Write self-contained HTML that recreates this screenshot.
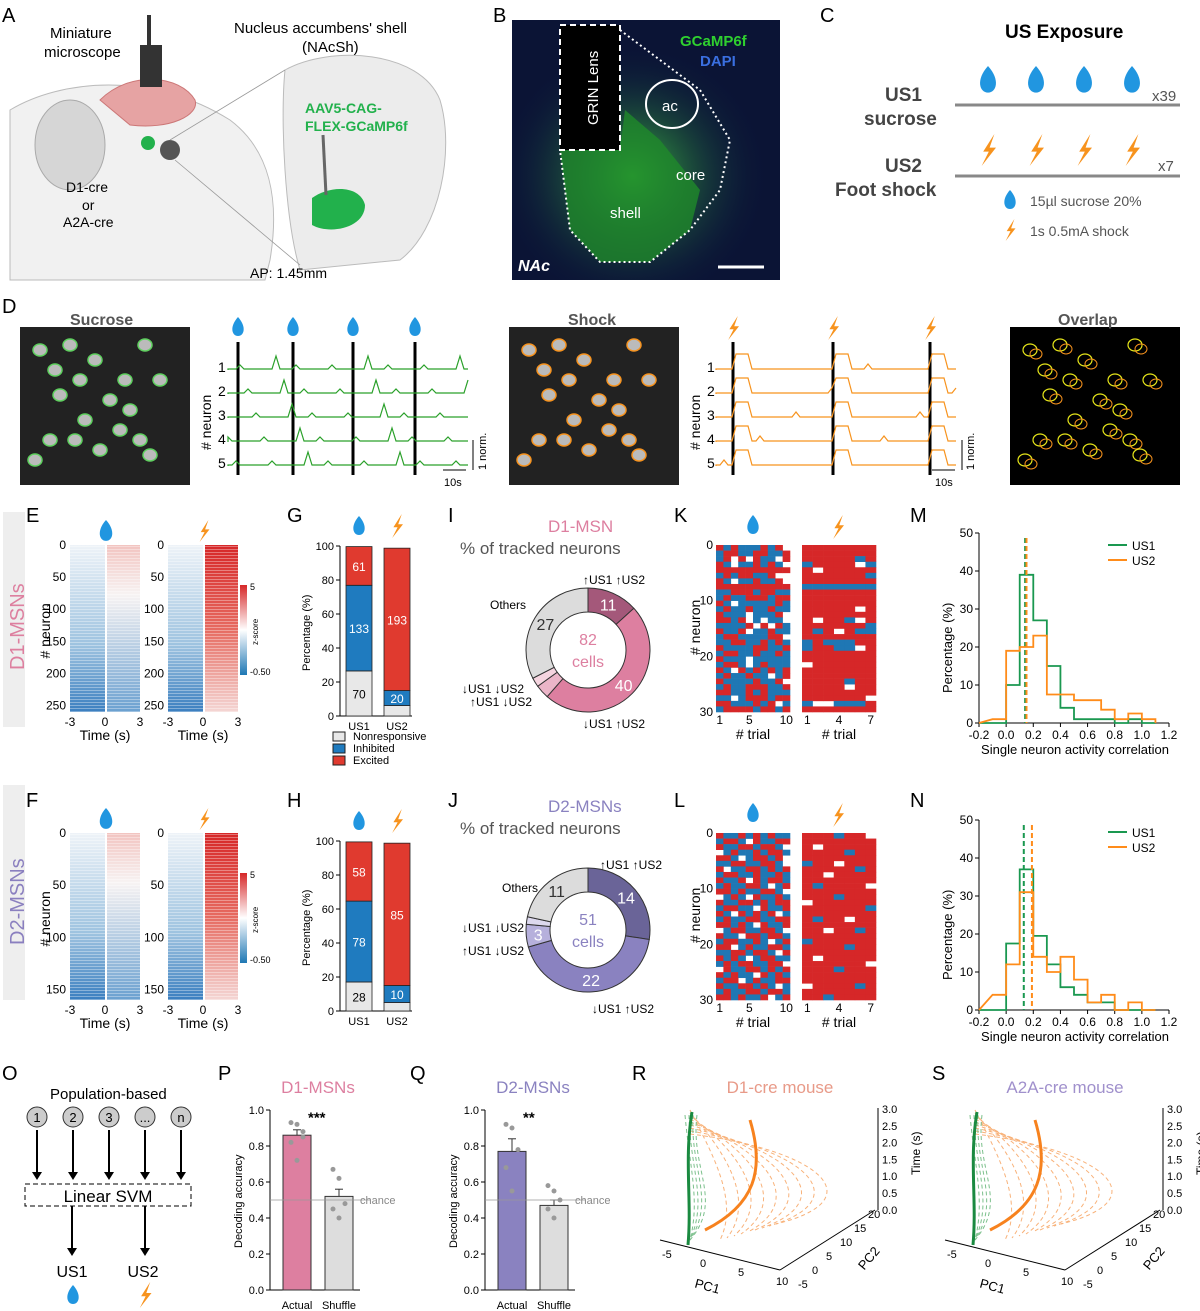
<!DOCTYPE html>
<html><head><meta charset="utf-8"><style>
body{margin:0;background:#fff}
svg{display:block;font-family:"Liberation Sans",sans-serif}
</style></head><body>
<svg id="fig" width="1200" height="1311" viewBox="0 0 1200 1311">
<defs>
<linearGradient id="hm1" x1="0" y1="0" x2="0" y2="1"><stop offset="0" stop-color="#eef3f8"/><stop offset="0.6" stop-color="#9ec3e0"/><stop offset="1" stop-color="#3b7fc0"/></linearGradient>
<linearGradient id="hm1r" x1="0" y1="0" x2="0" y2="1"><stop offset="0" stop-color="#f2c4c0"/><stop offset="0.3" stop-color="#f7f3f3"/><stop offset="1" stop-color="#6aa0d0"/></linearGradient>
<linearGradient id="hm2r" x1="0" y1="0" x2="0" y2="1"><stop offset="0" stop-color="#d62728"/><stop offset="0.5" stop-color="#e66a60"/><stop offset="1" stop-color="#f4d6d4"/></linearGradient>
<linearGradient id="cbar" x1="0" y1="0" x2="0" y2="1"><stop offset="0" stop-color="#d62728"/><stop offset="0.5" stop-color="#fff"/><stop offset="1" stop-color="#1f77b4"/></linearGradient>
<pattern id="stripes" width="6" height="3" patternUnits="userSpaceOnUse"><rect width="6" height="1" fill="#fff" opacity="0.35"/></pattern>
<radialGradient id="glow" cx="0.45" cy="0.6" r="0.5"><stop offset="0" stop-color="#3fbf3f"/><stop offset="1" stop-color="#0b1a40" stop-opacity="0"/></radialGradient>
</defs>
<g font-size="20" fill="#000">
<text x="2" y="22">A</text><text x="493" y="22">B</text><text x="820" y="22">C</text><text x="2" y="313">D</text>
<text x="26" y="522">E</text><text x="287" y="522">G</text><text x="448" y="522">I</text><text x="674" y="522">K</text><text x="910" y="522">M</text>
<text x="26" y="807">F</text><text x="287" y="807">H</text><text x="448" y="807">J</text><text x="674" y="807">L</text><text x="910" y="807">N</text>
<text x="2" y="1080">O</text><text x="218" y="1080">P</text><text x="410" y="1080">Q</text><text x="632" y="1080">R</text><text x="932" y="1080">S</text>
</g>
<!-- Panel A -->
<g>
<path d="M10,110 C60,80 150,70 230,120 C270,150 280,200 270,260 L265,280 L10,280 Z" fill="#f1f1f1" stroke="#bbb"/>
<ellipse cx="70" cy="145" rx="35" ry="45" fill="#d6d6d6" stroke="#aaa"/>
<path d="M100,100 C130,70 180,75 195,100 C200,115 170,130 130,125 Z" fill="#e6a3a3" stroke="#c77"/>
<circle cx="148" cy="143" r="7" fill="#22b14c"/><circle cx="170" cy="150" r="10" fill="#555"/>
<rect x="140" y="45" width="22" height="42" fill="#333"/><rect x="147" y="15" width="4" height="32" fill="#333"/>
<path d="M285,70 C330,45 420,50 440,100 C455,150 440,230 400,260 L300,270 C285,220 280,120 285,70Z" fill="#ececec" stroke="#bbb"/>
<path d="M312,198 C330,185 360,185 365,205 C365,228 330,235 312,225 Z" fill="#22b14c"/>
<line x1="323" y1="135" x2="326" y2="195" stroke="#666" stroke-width="3"/>
<line x1="170" y1="140" x2="285" y2="70" stroke="#999" stroke-width="0.8"/><line x1="175" y1="160" x2="300" y2="265" stroke="#999" stroke-width="0.8"/>
<text x="50" y="38" font-size="15">Miniature</text><text x="44" y="57" font-size="15">microscope</text>
<text x="234" y="33" font-size="15">Nucleus accumbens' shell</text><text x="302" y="52" font-size="15">(NAcSh)</text>
<text x="305" y="113" font-size="14" fill="#22b14c" font-weight="bold">AAV5-CAG-</text><text x="305" y="131" font-size="14" fill="#22b14c" font-weight="bold">FLEX-GCaMP6f</text>
<text x="66" y="192" font-size="14">D1-cre</text><text x="82" y="210" font-size="14">or</text><text x="63" y="227" font-size="14">A2A-cre</text>
<text x="250" y="278" font-size="14">AP: 1.45mm</text>
</g>
<!-- Panel B -->
<g>
<rect x="512" y="20" width="268" height="260" fill="#0b1435"/>
<rect x="512" y="20" width="268" height="260" fill="url(#glow)"/>
<path d="M560,150 L620,150 L625,110 L660,140 L700,190 L690,230 L650,262 L600,262 L570,230 Z" fill="#1f8a2a" opacity="0.8"/>
<rect x="560" y="25" width="60" height="125" fill="#000" stroke="#fff" stroke-dasharray="6,4" stroke-width="2"/>
<text transform="translate(598,125) rotate(-90)" fill="#fff" font-size="15">GRIN Lens</text>
<ellipse cx="672" cy="104" rx="26" ry="24" fill="none" stroke="#fff" stroke-width="2"/>
<path d="M620,30 L700,90 L730,140 L720,190 L690,230 L650,262 L600,262 L570,230 L560,150" fill="none" stroke="#fff" stroke-dasharray="2,3" stroke-width="2"/>
<text x="662" y="111" fill="#fff" font-size="15">ac</text><text x="676" y="180" fill="#fff" font-size="15">core</text><text x="610" y="218" fill="#fff" font-size="15">shell</text>
<text x="680" y="46" fill="#2fd02f" font-size="15" font-weight="bold">GCaMP6f</text><text x="700" y="66" fill="#3a6fe0" font-size="15" font-weight="bold">DAPI</text>
<text x="518" y="271" fill="#fff" font-size="16" font-weight="bold" font-style="italic">NAc</text>
<line x1="718" y1="267" x2="764" y2="267" stroke="#fff" stroke-width="3"/>
</g>
<!-- Panel C -->
<g>
<text x="1005" y="38" font-size="19" font-weight="bold">US Exposure</text>
<text x="885" y="101" font-size="19" font-weight="bold" fill="#444">US1</text><text x="864" y="125" font-size="19" font-weight="bold" fill="#444">sucrose</text>
<text x="885" y="172" font-size="19" font-weight="bold" fill="#444">US2</text><text x="835" y="196" font-size="19" font-weight="bold" fill="#444">Foot shock</text>
<line x1="955" y1="105" x2="1180" y2="105" stroke="#888" stroke-width="3"/><line x1="955" y1="176" x2="1180" y2="176" stroke="#888" stroke-width="3"/>
<text x="1152" y="101" font-size="15" fill="#555">x39</text><text x="1158" y="171" font-size="15" fill="#555">x7</text>
<g id="cicons"></g>
<text x="1030" y="206" font-size="14" fill="#555">15µl sucrose 20%</text><text x="1030" y="236" font-size="14" fill="#555">1s 0.5mA shock</text>
</g>
<!-- Panel D -->
<g>
<rect x="20" y="327" width="170" height="158" fill="#222"/>
<rect x="509" y="327" width="170" height="158" fill="#222"/>
<rect x="1010" y="327" width="170" height="158" fill="#000"/>
<text x="70" y="325" font-size="16" font-weight="bold" fill="#555">Sucrose</text>
<text x="568" y="325" font-size="16" font-weight="bold" fill="#555">Shock</text>
<text x="1058" y="325" font-size="16" font-weight="bold" fill="#555">Overlap</text>
<g id="rois"></g><g id="traces"></g>
<text transform="translate(211,450) rotate(-90)" font-size="14">#  neuron</text>
<text transform="translate(700,450) rotate(-90)" font-size="14">#  neuron</text>
<text x="444" y="486" font-size="11">10s</text><text x="935" y="486" font-size="11">10s</text>
<text transform="translate(486,470) rotate(-90)" font-size="11">1 norm.</text><text transform="translate(974,470) rotate(-90)" font-size="11">1 norm.</text>
<line x1="473" y1="440" x2="473" y2="470" stroke="#000"/><line x1="443" y1="470" x2="466" y2="470" stroke="#000"/>
<line x1="962" y1="440" x2="962" y2="470" stroke="#000"/><line x1="932" y1="470" x2="955" y2="470" stroke="#000"/>
</g>
<!-- Row labels -->
<rect x="3" y="512" width="22" height="215" fill="#eee"/>
<rect x="3" y="785" width="22" height="215" fill="#eee"/>
<text transform="translate(24,670) rotate(-90)" font-size="20" fill="#dd7f9f">D1-MSNs</text>
<text transform="translate(24,945) rotate(-90)" font-size="20" fill="#8a7fbf">D2-MSNs</text>
<!-- E/F heatmaps -->
<g id="heat"></g>
<g id="charts"></g>
</svg>
<script>
const NS="http://www.w3.org/2000/svg";
function mk(tag,attrs,parent,text){const e=document.createElementNS(NS,tag);for(const k in attrs)e.setAttribute(k,attrs[k]);if(text!==undefined)e.textContent=text;(parent||document.getElementById('charts')).appendChild(e);return e;}
const G=document.getElementById('charts');
function drop(x,y,s,p){const e=mk('path',{d:`M${x},${y-s} C${x+s*0.9},${y} ${x+s*0.6},${y+s*0.9} ${x},${y+s*0.9} C${x-s*0.6},${y+s*0.9} ${x-s*0.9},${y} ${x},${y-s}Z`,fill:'#2196e0'},p);}
function bolt(x,y,s,p){const e=mk('path',{d:`M${x+s*0.4},${y-s} L${x-s*0.3},${y+s*0.1} L${x+s*0.05},${y+s*0.1} L${x-s*0.4},${y+s} L${x+s*0.5},${y-s*0.15} L${x+s*0.1},${y-s*0.15} Z`,fill:'#f7931e'},p);}
const ci=document.getElementById('cicons');
[988,1036,1084,1132].forEach(x=>{drop(x,80,14,ci);bolt(x,150,16,ci);});
drop(1010,200,10,ci);bolt(1010,230,11,ci);
// ROIs
const roi=document.getElementById('rois');
const roiPts=[[40,350],[55,370],[70,345],[60,395],[80,380],[95,360],[110,400],[85,420],[120,430],[130,410],[140,440],[150,455],[35,460],[50,440],[145,345],[160,380],[100,450],[75,440],[125,380]];
roiPts.forEach(p=>{[[0,'#5ed05e',0],[489,'#f7931e',0]].forEach(o=>{mk('ellipse',{cx:p[0]+o[0],cy:p[1],rx:7,ry:6,fill:'#bbb',stroke:o[1],'stroke-width':1.5},roi);});
mk('ellipse',{cx:p[0]+990,cy:p[1],rx:7,ry:6,fill:'none',stroke:'#e5e51a','stroke-width':1.2},roi);mk('ellipse',{cx:p[0]+996,cy:p[1]+4,rx:6,ry:5,fill:'none',stroke:'#f7931e','stroke-width':1},roi);});
// traces
const tr=document.getElementById('traces');
const sucEvents=[238,293,353,415], shkEvents=[733,833,930];
sucEvents.forEach(x=>{drop(x,327,10,tr);mk('line',{x1:x,y1:342,x2:x,y2:475,stroke:'#000','stroke-width':3},tr);});
shkEvents.forEach(x=>{bolt(x,328,12,tr);mk('line',{x1:x,y1:342,x2:x,y2:475,stroke:'#000','stroke-width':3},tr);});
const neuronLabels=['1','2','3','4','5'];
neuronLabels.forEach((l,i)=>{const y=370+i*24;mk('text',{x:218,y:y+2,'font-size':14},tr,l);mk('text',{x:707,y:y+2,'font-size':14},tr,l);
let d=`M228,${y}`,d2=`M716,${y}`;for(let x=228;x<=470;x+=4){const k=(x*7+i*13)%23;d+=` L${x},${y-(k==0?14:k<3?5:1)}`;}
for(let x=716;x<=958;x+=4){const near=shkEvents.some(e=>x>e&&x<e+16);d2+=` L${x},${y-(near?16:((x+i*5)%31==0?6:1))}`;}
mk('path',{d,fill:'none',stroke:'#2aa02a','stroke-width':1.2},tr);mk('path',{d:d2,fill:'none',stroke:'#f7931e','stroke-width':1.2},tr);});
// heatmaps
const H=document.getElementById('heat');
function heatPanel(y0,y1,ticks,tickVals,maxN){
 [[70,'url(#hm1)','url(#hm1r)',drop],[168,'url(#hm1)','url(#hm2r)',bolt]].forEach((c,j)=>{
  mk('rect',{x:c[0],y:y0,width:36,height:y1-y0,fill:c[1]},H);mk('rect',{x:c[0]+36,y:y0,width:34,height:y1-y0,fill:c[2]},H);
  mk('rect',{x:c[0],y:y0,width:70,height:y1-y0,fill:'url(#stripes)'},H);
  mk('line',{x1:c[0]+36,y1:y0,x2:c[0]+36,y2:y1,stroke:'#fff','stroke-width':2},H);
  c[3](c[0]+36,y0-14,11,H);
  tickVals.forEach(v=>{const y=y0+(y1-y0)*v/maxN;mk('text',{x:c[0]-4,y:y+4,'font-size':12,'text-anchor':'end'},H,String(v));});
  ['-3','0','3'].forEach((t,k)=>mk('text',{x:c[0]+k*35,y:y1+14,'font-size':12,'text-anchor':'middle'},H,t));
  mk('text',{x:c[0]+35,y:y1+28,'font-size':14,'text-anchor':'middle'},H,'Time (s)');
 });
 mk('rect',{x:240,y:y0+40,width:7,height:90,fill:'url(#cbar)'},H);
 mk('text',{x:250,y:y0+45,'font-size':9},H,'5');mk('text',{x:250,y:y0+130,'font-size':9},H,'-0.50');
 mk('text',{transform:`translate(258,${y0+100}) rotate(-90)`,'font-size':8},H,'z-score');
 mk('text',{transform:`translate(50,${(y0+y1)/2+30}) rotate(-90)`,'font-size':14},H,'# neuron');
}
heatPanel(545,712,[],[0,50,100,150,200,250],260);
heatPanel(833,1000,[],[0,50,100,150],160);

// stacked bars G/H
const barCats=['US1','US2'];
const gNonresp=[70,14], gInhib=[133,20], gExcit=[61,193];
const hNonresp=[28,5], hInhib=[78,10], hExcit=[58,85];
function stacked(x0,yTop,yBot,non,inh,exc){
 const ys=v=>yBot-(yBot-yTop)*v/100;
 mk('line',{x1:x0,y1:yTop,x2:x0,y2:yBot,stroke:'#000'});mk('line',{x1:x0,y1:yBot,x2:x0+72,y2:yBot,stroke:'#000'});
 [0,20,40,60,80,100].forEach(v=>{mk('line',{x1:x0-4,y1:ys(v),x2:x0,y2:ys(v),stroke:'#000'});mk('text',{x:x0-6,y:ys(v)+4,'font-size':11,'text-anchor':'end'},G,String(v));});
 mk('text',{transform:`translate(${x0-30},${(yTop+yBot)/2+40}) rotate(-90)`,'font-size':11},G,'Percentage (%)');
 barCats.forEach((c,i)=>{const bx=x0+6+i*38,w=26,tot=non[i]+inh[i]+exc[i];
  const p1=non[i]/tot*100,p2=inh[i]/tot*100,p3=exc[i]/tot*100*0.985;
  const segs=[[0,p1,'#e8e8e8',non[i],'#000'],[p1,p1+p2,'#1f7bbf',inh[i],'#fff'],[p1+p2,p1+p2+p3,'#e03a2f',exc[i],'#fff']];
  segs.forEach((s,k)=>{const r=mk('rect',{x:bx,y:ys(s[1]),width:w,height:ys(s[0])-ys(s[1]),fill:s[2],stroke:'#222','stroke-width':0.8});
   
   if(!(i==1&&k==0))mk('text',{x:bx+w/2,y:(ys(s[0])+ys(s[1]))/2+5,'font-size':12,fill:s[4],'text-anchor':'middle'},G,String(s[3]));});
  mk('text',{x:bx+w/2,y:yBot+14,'font-size':11,'text-anchor':'middle'},G,c);});
 drop(x0+19,yTop-20,10,G);bolt(x0+57,yTop-20,12,G);
}
stacked(340,546,716,gNonresp,gInhib,gExcit);
stacked(340,841,1011,hNonresp,hInhib,hExcit);
[['#e8e8e8','Nonresponsive',740],['#1f7bbf','Inhibited',752],['#e03a2f','Excited',764]].forEach(l=>{mk('rect',{x:333,y:l[2]-8,width:12,height:9,fill:l[0],stroke:'#222'});mk('text',{x:353,y:l[2],'font-size':11},G,l[1]);});

// donuts
const d1Vals=[11,40,3,2,27], d1Labels=['11','40','','','27'];
const d2Vals=[14,22,3,1,11], d2Labels=['14','22','3','','11'];
function donut(cx,cy,vals,labels,cols,center,title,tcol){
 const tot=vals.reduce((a,b)=>a+b,0);let a=-Math.PI/2+0.0;const R=62,r=38;
 // start at top (others end at top)
 vals.forEach((v,i)=>{const a2=a+v/tot*2*Math.PI;const large=a2-a>Math.PI?1:0;
  const p=(rr,an)=>`${cx+rr*Math.cos(an)},${cy+rr*Math.sin(an)}`;
  const s=mk('path',{d:`M${p(R,a)} A${R},${R} 0 ${large} 1 ${p(R,a2)} L${p(r,a2)} A${r},${r} 0 ${large} 0 ${p(r,a)}Z`,fill:cols[i],stroke:'#333','stroke-width':1});
  
  const m=(a+a2)/2;if(labels[i])mk('text',{x:cx+50*Math.cos(m),y:cy+50*Math.sin(m)+6,'font-size':16,'text-anchor':'middle',fill:i==4?'#333':'#fff'},G,labels[i]);a=a2;});
 mk('text',{x:cx,y:cy-5,'font-size':16,'text-anchor':'middle',fill:tcol},G,center);mk('text',{x:cx,y:cy+17,'font-size':16,'text-anchor':'middle',fill:tcol},G,'cells');
 mk('text',{x:cx-40,y:cy-118,'font-size':17,'text-anchor':'start',fill:tcol},G,title);
 mk('text',{x:cx-128,y:cy-96,'font-size':17,fill:'#555'},G,'% of tracked neurons');
}
donut(588,650,d1Vals,d1Labels,['#a4587a','#dd7fa0','#ebb5c8','#f5d4df','#dcdcdc'],'82','D1-MSN','#dd7fa0');
donut(588,930,d2Vals,d2Labels,['#6a6498','#8a82c0','#b6b0dc','#dcd8ee','#dcdcdc'],'51','D2-MSNs','#8a82c0');
[[583,584,'↑US1 ↑US2'],[490,609,'Others'],[462,693,'↓US1 ↓US2'],[470,706,'↑US1 ↓US2'],[583,728,'↓US1 ↑US2'],
 [600,869,'↑US1 ↑US2'],[502,892,'Others'],[462,932,'↓US1 ↓US2'],[462,955,'↑US1 ↓US2'],[592,1013,'↓US1 ↑US2']].forEach(t=>mk('text',{x:t[0],y:t[1],'font-size':12},G,t[2]));

// K/L rasters: R=excited, B=inhibited, W=none
const kUS1=["RBRBBBRBRW","BRRBBRRBBR","BRWRWRBBWR","RBWBBRBRBW","RRRRRRRRRR","BRBRRBBRWW","RBWBBRBBRW","RRRRRRRRRR","BBRRRBRRBB","BRBBRRRBRR","RBWBBBBBRB","BRBBRBBRBB","RBBBWBBBRW","RRBRWBWBBW","BBBBRWRWRB","RBBRWBBRBB","BRRBBBBRRW","BBRRBBRBRB","RBBBBRRBBR","BRRBBRBBRB","RBBBWBBBBB","BRRBWBRBBB","RBWRBRBRBR","BRBBRBBWBR","RBBBBRBBRW","BRBBRRRBBR","RRBBRBRBBB","BBWBRRRBRR","RRBBBRBRWB","BRRRRBRRBR"];
const kUS2=["RRRRRRR","RRRRRRR","RRRRRBR","BRRRRWB","RWRRRRR","RRRRRRB","RRRRRRR","BBBBBBB","RRRRRRR","RRRRRRR","RRRRRRR","RRRRRWR","RRRRRRR","RWRRBWR","RRRRRRB","RBRWRBB","RRRRRRR","BRBBBRR","BRRBBWR","RRRRRRR","RRRRRRR","WRRRRRR","RRRRRRR","RRRRRRR","RRRRBRR","RRRRWRR","RRRRRRR","RRRRRRW","BWWBBBR","RRRRRRR"];
const lUS1=["RBBRBRBRBB","BRRBWRBBRR","RBBRRBRRBW","WBRBBRBRRB","RRBWBRRBRW","BBRRBBRRBW","RWBBRRBRBR","BRRBBRBBRB","RBBRWRBRRB","BRBBRRBWBR","RRBRBBRRBW","WBRBWRBBRB","RBBRRBRBRR","BRRBBWRBBR","RBWRBRBRWB","BRBBRRBBRR","RRBRBWRBBR","WBRRBBRRBW","RBBWRRBRRB","BRRBBRBWBR","RRWBRBBRRB","BBRRBRRBWR","RBRBWBRRBB","BRBRRBBRRW","WRBBRRBRBR","RBRBBWRBRB","BRRWBRBBRR","RBBRRBRBWB","BRBBRRBRRB","RRBRBBRWBR"];
const lUS2=["RRRBRRW","RRRRRRR","RWRRRRR","RRRRBRR","RRRRRRR","BRRWRRR","RRRRRBR","RRWRRRR","RRRRRRR","RBRRRRW","RRRRRRR","RRRBRRR","WRRRRRR","RRRRRRB","RRRRRRR","RBRRWRR","RRRRRRR","RRWRRBR","RRRRRRR","BRRRRRR","RRRRBRR","RRRRRRR","RWRRRRR","RRRRRRW","RRRBRRR","RRRRRRR","RRRRRRR","WRRRRBR","RRRRRRR","RRBRRRR"];
const cmap={R:'#d62728',B:'#1f77b4',W:'#ffffff'};
function raster(x0,y0,w,h,rows,ncol,ticksX){
 const cw=w/ncol,rh=h/rows.length;
 rows.forEach((row,i)=>row.split('').forEach((c,j)=>{if(c!=='W'){const r=mk('rect',{x:x0+j*cw,y:y0+i*rh,width:cw+0.3,height:rh+0.3,fill:cmap[c]});}}));
 ticksX.forEach(t=>mk('text',{x:x0+(t-0.5)*cw,y:y0+h+12,'font-size':12,'text-anchor':'middle'},G,String(t)));
 mk('text',{x:x0+w/2,y:y0+h+27,'font-size':14,'text-anchor':'middle'},G,'# trial');
}
function rasterPair(y0,a,b){raster(716,y0,74,167,a,10,[1,5,10]);raster(802,y0,74,167,b,7,[1,4,7]);
 [0,10,20,30].forEach(v=>mk('text',{x:713,y:y0+167*v/30+4,'font-size':12,'text-anchor':'end'},G,String(v)));
 mk('text',{transform:`translate(700,${y0+110}) rotate(-90)`,'font-size':14},G,'# neuron');
 drop(753,y0-20,10,G);bolt(838,y0-18,12,G);}
rasterPair(545,kUS1,kUS2);rasterPair(833,lUS1,lUS2);

// histograms M/N, bins start at -0.1, width 0.1
const binStarts=[-0.1,0,0.1,0.2,0.3,0.4,0.5,0.6,0.7,0.8,0.9,1.0];
const mUS1=[0,10,39,27,15,4,1,1,1,0,1,0];
const mUS2=[1,19,20,23,7.5,7.5,6,6,3.5,1,2.5,1];
const nUS1=[0,17.5,37,19.5,12,6,4,2,2,0,0,0];
const nUS2=[4,12,31,14,10,14,8,2,4,0,2,0];
const mMeans=[0.14,0.15], nMeans=[0.13,0.19];
const xTicks=[-0.2,0,0.2,0.4,0.6,0.8,1.0,1.2], yTicks=[0,10,20,30,40,50];
function hist(yBot,yTop,s1,s2,means){
 const X=v=>979+(v+0.2)*(1169-979)/1.4, Y=v=>yBot-(yBot-yTop)*v/50;
 mk('line',{x1:X(-0.2),y1:yTop,x2:X(-0.2),y2:yBot,stroke:'#000'});mk('line',{x1:X(-0.2),y1:yBot,x2:X(1.2),y2:yBot,stroke:'#000'});
 yTicks.forEach(v=>{mk('line',{x1:X(-0.2)-4,y1:Y(v),x2:X(-0.2),y2:Y(v),stroke:'#000'});mk('text',{x:X(-0.2)-6,y:Y(v)+4,'font-size':12,'text-anchor':'end'},G,String(v));});
 xTicks.forEach(v=>{mk('line',{x1:X(v),y1:yBot,x2:X(v),y2:yBot+4,stroke:'#000'});mk('text',{x:X(v),y:yBot+16,'font-size':12,'text-anchor':'middle'},G,v.toFixed(1));});
 mk('text',{x:1075,y:yBot+31,'font-size':13,'text-anchor':'middle'},G,'Single neuron activity correlation');
 mk('text',{transform:`translate(${X(-0.2)-27},${yBot-30}) rotate(-90)`,'font-size':13},G,'Percentage (%)');
 [[s1,'#1a9850'],[s2,'#ff8c1a']].forEach(([s,c],k)=>{let d=`M${X(-0.2)},${Y(0)}`;binStarts.forEach((b,i)=>{d+=` L${X(b)},${Y(s[i])} L${X(b+0.1)},${Y(s[i])}`;});d+=` L${X(1.1)},${Y(0)}`;
  const p=mk('path',{d,fill:'none',stroke:c,'stroke-width':1.8});
  mk('line',{x1:X(means[k]),y1:yTop+5,x2:X(means[k]),y2:yBot,stroke:c,'stroke-width':2,'stroke-dasharray':'5,3'});
  mk('line',{x1:1108,y1:yTop+12+k*15,x2:1127,y2:yTop+12+k*15,stroke:c,'stroke-width':2});mk('text',{x:1132,y:yTop+17+k*15,'font-size':12},G,'US'+(k+1));});
}
hist(723,533,mUS1,mUS2,mMeans);hist(1010,820,nUS1,nUS2,nMeans);

// Panel O
const oLabels=['1','2','3','...','n'];
mk('text',{x:50,y:1099,'font-size':15},G,'Population-based');
oLabels.forEach((l,i)=>{const x=37+i*36;mk('circle',{cx:x,cy:1117,r:10,fill:'#ccc',stroke:'#333'});mk('text',{x:x,y:1122,'font-size':13,'text-anchor':'middle'},G,l);
 mk('line',{x1:x,y1:1130,x2:x,y2:1175,stroke:'#000','stroke-width':2});mk('path',{d:`M${x-5},${1172} L${x+5},${1172} L${x},${1180}Z`});});
mk('rect',{x:25,y:1184,width:166,height:22,fill:'none',stroke:'#000','stroke-dasharray':'5,3'});mk('text',{x:108,y:1202,'font-size':17,'text-anchor':'middle'},G,'Linear SVM');
[72,145].forEach(x=>{mk('line',{x1:x,y1:1206,x2:x,y2:1250,stroke:'#000','stroke-width':2});mk('path',{d:`M${x-5},1248 L${x+5},1248 L${x},1256Z`});});
mk('text',{x:72,y:1277,'font-size':16,'text-anchor':'middle'},G,'US1');mk('text',{x:143,y:1277,'font-size':16,'text-anchor':'middle'},G,'US2');
drop(73,1295,10,G);bolt(145,1295,13,G);

// Panels P/Q
const decCats=['Actual','Shuffle'];
const pMeans=[0.86,0.52], pErr=[0.03,0.04];
const qMeans=[0.77,0.47], qErr=[0.07,0.03];
const pDots=[[0.93,0.92,0.85,0.82,0.72,0.88],[0.67,0.62,0.48,0.45,0.40]];
const qDots=[[0.92,0.90,0.78,0.68,0.55],[0.58,0.55,0.50,0.45,0.40]];
function dec(x0,title,col,means,errs,dots,star){
 const Y=v=>1290-180*v;
 mk('line',{x1:x0,y1:Y(1),x2:x0,y2:Y(0),stroke:'#000'});mk('line',{x1:x0,y1:Y(0),x2:x0+90,y2:Y(0),stroke:'#000'});
 [0,0.2,0.4,0.6,0.8,1.0].forEach(v=>{mk('line',{x1:x0-4,y1:Y(v),x2:x0,y2:Y(v),stroke:'#000'});mk('text',{x:x0-6,y:Y(v)+4,'font-size':11,'text-anchor':'end'},G,v.toFixed(1));});
 mk('text',{transform:`translate(${x0-28},1248) rotate(-90)`,'font-size':11},G,'Decoding accuracy');
 mk('text',{x:x0+48,y:1093,'font-size':17,'text-anchor':'middle',fill:col},G,title);
 decCats.forEach((c,i)=>{const bx=x0+13+i*42;const r=mk('rect',{x:bx,y:Y(means[i]),width:28,height:Y(0)-Y(means[i]),fill:i?'#ddd':col,stroke:'#333'});
  
  mk('line',{x1:bx+14,y1:Y(means[i]+errs[i]),x2:bx+14,y2:Y(means[i]),stroke:'#333'});mk('line',{x1:bx+10,y1:Y(means[i]+errs[i]),x2:bx+18,y2:Y(means[i]+errs[i]),stroke:'#333'});
  dots[i].forEach((d,k)=>mk('circle',{cx:bx+8+(k%3)*6,cy:Y(d),r:2.5,fill:'#999'}));
  mk('text',{x:bx+14,y:1309,'font-size':11,'text-anchor':'middle'},G,c);});
 mk('line',{x1:x0,y1:Y(0.5),x2:x0+100,y2:Y(0.5),stroke:'#999','stroke-width':0.7});mk('text',{x:x0+90,y:Y(0.5)+4,'font-size':11,fill:'#888'},G,'chance');
 mk('text',{x:x0+38,y:Y(0.93),'font-size':15,'font-weight':'bold'},G,star);
}
dec(270,'D1-MSNs','#dd7fa0',pMeans,pErr,pDots,'***');
dec(485,'D2-MSNs','#8a82c0',qMeans,qErr,qDots,'**');

// Panels R/S 3D trajectories
function traj(x0,title,col){
 mk('text',{x:x0+130,y:1093,'font-size':17,'text-anchor':'middle',fill:col},G,title);
 const zx=x0+228;mk('line',{x1:zx,y1:1108,x2:zx,y2:1210,stroke:'#000'});
 ['3.0','2.5','2.0','1.5','1.0','0.5','0.0'].forEach((t,i)=>mk('text',{x:zx+4,y:1113+i*16.8,'font-size':11},G,t));
 mk('text',{transform:`translate(${zx+42},1175) rotate(-90)`,'font-size':12},G,'Time (s)');
 mk('line',{x1:x0+10,y1:1240,x2:x0+130,y2:1270,stroke:'#000'});mk('line',{x1:x0+130,y1:1270,x2:x0+225,y2:1210,stroke:'#000'});
 ['-5','0','5','10'].forEach((t,i)=>mk('text',{x:x0+12+i*38,y:1258+i*9,'font-size':11},G,t));
 ['-5','0','5','10','15','20'].forEach((t,i)=>mk('text',{x:x0+148+i*14,y:1288-i*14,'font-size':11},G,t));
 mk('text',{x:x0+45,y:1290,'font-size':13,transform:`rotate(15,${x0+55},1285)`},G,'PC1');mk('text',{x:x0+210,y:1268,'font-size':13,transform:`rotate(-50,${x0+215},1265)`},G,'PC2');
 for(let k=0;k<9;k++){const o=k*14;mk('path',{d:`M${x0+40},${1110+k*3} C${x0+60+o},${1150} ${x0+90+o*1.2},${1200} ${x0+70+o*0.5},${1240-k*2}`,fill:'none',stroke:'#f8b27a','stroke-width':1,'stroke-dasharray':'4,3'});}
 for(let k=0;k<4;k++)mk('path',{d:`M${x0+35+k*4},${1115} C${x0+40},${1170} ${x0+50+k*8},${1200} ${x0+40},${1240}`,fill:'none',stroke:'#7cc08c','stroke-width':1,'stroke-dasharray':'4,3'});
 mk('path',{d:`M${x0+42},1112 C${x0+34},1160 ${x0+42},1200 ${x0+38},1245`,fill:'none',stroke:'#1a8a40','stroke-width':3});
 mk('path',{d:`M${x0+100},1120 C${x0+115},1170 ${x0+105},1205 ${x0+55},1230`,fill:'none',stroke:'#f7821e','stroke-width':3});
}
traj(650,'D1-cre mouse','#e89a88');traj(935,'A2A-cre mouse','#a090cc');
</script>
</body></html>
